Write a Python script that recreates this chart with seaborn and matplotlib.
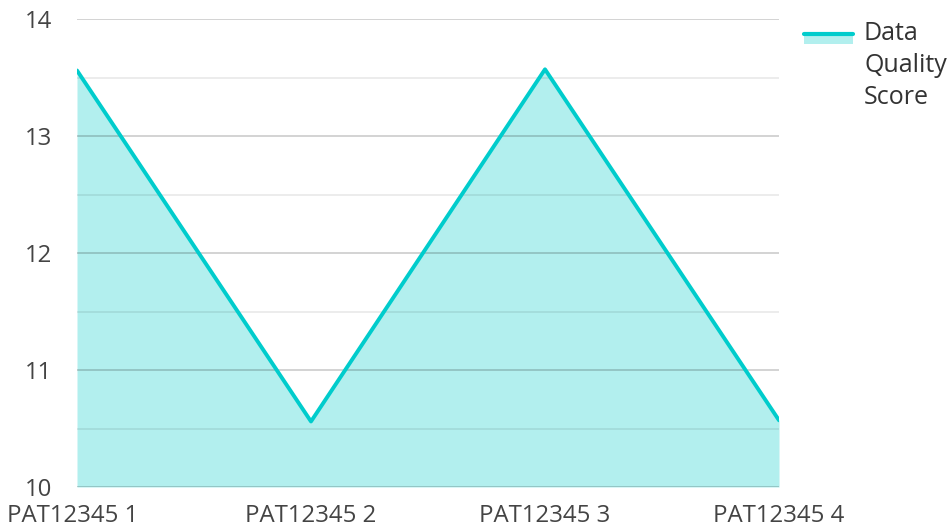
import matplotlib
matplotlib.use("Agg")
import matplotlib.pyplot as plt
import matplotlib.transforms as mtransforms
from matplotlib.lines import Line2D
from matplotlib.patches import Rectangle
import seaborn as sns
import pandas as pd

categories = ["PAT12345 1", "PAT12345 2", "PAT12345 3", "PAT12345 4"]
scores = [13.56, 10.56, 13.57, 10.57]
series_name = "Data Quality Score"
y_ticks = [10, 11, 12, 13, 14]

LINE = "#00cccc"
FILL = "#b2efee"
FS = 17.3

sns.set_theme(style="white")
plt.rcParams["font.family"] = ["Open Sans", "DejaVu Sans"]

df = pd.DataFrame({"patient": categories, "score": scores})
df["pos"] = range(len(categories))

fig = plt.figure(figsize=(9.49, 5.26), dpi=100)
ax = fig.add_axes([77 / 949, 1 - 487 / 526, (779 - 77) / 949, (487 - 19) / 526])

ax.fill_between(df["pos"], df["score"], 10, color=FILL, lw=0, zorder=1)
sns.lineplot(data=df, x="pos", y="score", ax=ax, color=LINE, lw=2.8, zorder=3,
             legend=False)

ax.set_xlim(0, len(categories) - 1)
ax.set_ylim(10, 14)
ax.set_yticks(y_ticks)
ax.set_yticks([10.5, 11.5, 12.5, 13.5], minor=True)
ax.set_xticks(df["pos"])
ax.set_xticklabels(categories)
ax.grid(axis="y", which="major", color="#000000", alpha=0.2, lw=1.2, zorder=2)
ax.grid(axis="y", which="minor", color="#000000", alpha=0.09, lw=1.2, zorder=2)
ax.grid(axis="x", visible=False)
ax.set_axisbelow(False)
for s in ax.spines.values():
    s.set_visible(False)
ax.set_xlabel("")
ax.set_ylabel("")
ax.tick_params(axis="y", which="both", length=0, pad=18, labelsize=FS, labelcolor="#444444")
ax.tick_params(axis="x", length=0, pad=12, labelsize=FS, labelcolor="#444444")

lbl0 = ax.get_xticklabels()[0]
lbl0.set_transform(lbl0.get_transform() + mtransforms.ScaledTranslation(-4 / 100, 0, fig.dpi_scale_trans))

# legend
fig.add_artist(Rectangle((804 / 949, 1 - 44 / 526), 49 / 949, 10 / 526,
                         transform=fig.transFigure, color=FILL, lw=0))
fig.add_artist(Line2D([804 / 949, 853 / 949], [1 - 34 / 526, 1 - 34 / 526],
                      transform=fig.transFigure, color=LINE, lw=3))
fig.text(864 / 949, 1 - 21 / 526, "Data\nQuality\nScore", ha="left", va="top",
         fontsize=18, color="#333333", linespacing=1.36,
         transform=fig.transFigure)

fig.savefig("out.png", dpi=100)
